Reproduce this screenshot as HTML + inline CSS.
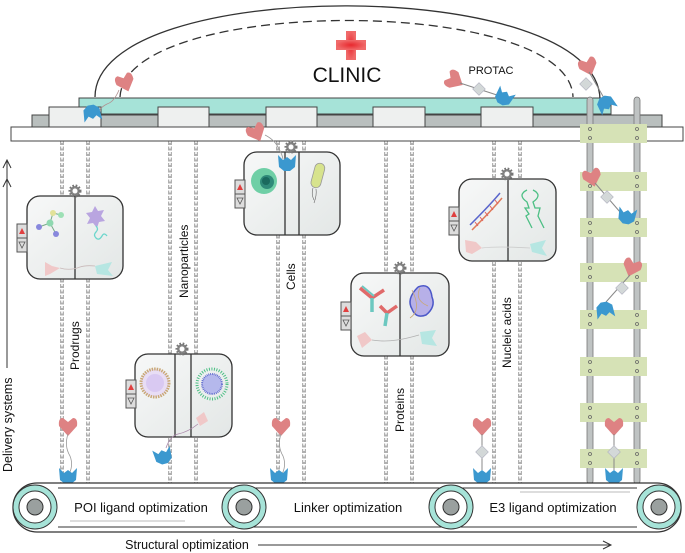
<!DOCTYPE html>
<html><head><meta charset="utf-8"><style>
html,body{margin:0;padding:0;background:#fff;}
svg{display:block;font-family:"Liberation Sans",sans-serif;}
</style></head><body>
<svg width="685" height="553" viewBox="0 0 685 553" xmlns="http://www.w3.org/2000/svg">
<defs>
  <linearGradient id="cab" x1="0" y1="0" x2="1" y2="1">
    <stop offset="0" stop-color="#f7f8f8"/><stop offset="1" stop-color="#e3e7e6"/>
  </linearGradient>
  <radialGradient id="cross"><stop offset="0" stop-color="#e8282e"/><stop offset="1" stop-color="#f06a6a"/></radialGradient>
  <g id="heart"><path d="M0,10 L-9,0 Q-10,-8 -5,-8 L0,-4 L5,-8 Q10,-8 9,0 Z" fill="#de8283"/></g>
  <g id="claw"><path d="M-9,-8 L-4,-3 L0,-6 L4,-3 L9,-8 L8,4 L3,8 L-3,8 L-8,4 Z" fill="#3b98cf"/></g>
  <g id="dia"><rect x="-4.5" y="-4.5" width="9" height="9" transform="rotate(45)" fill="#d3d8d8" stroke="#aab" stroke-width="0.5"/></g>
  <g id="gear"><circle r="5" fill="#888"/><circle r="5" fill="none" stroke="#777" stroke-width="3" stroke-dasharray="1.5 1.5"/><circle r="2.5" fill="#fff"/></g>
  <g id="panel"><rect x="0" y="0" width="10" height="28" fill="#ddd" stroke="#555" stroke-width="1"/><line x1="0" y1="14" x2="10" y2="14" stroke="#555"/><path d="M5,4 L8,10 L2,10Z" fill="#e04040"/><path d="M2,18 L8,18 L5,24Z" fill="none" stroke="#555" stroke-width="0.8"/></g>
</defs>

<path d="M95,97 C95,-25 600,-25 600,100" fill="none" stroke="#333" stroke-width="1.3"/>
<path d="M120,97 C125,-5 570,-5 573,97" fill="none" stroke="#333" stroke-width="1.3" stroke-dasharray="9 5"/>
<rect x="346" y="31" width="10" height="29" fill="url(#cross)"/>
<rect x="336" y="40" width="30" height="10" fill="url(#cross)"/>
<text x="347" y="82" font-size="21" text-anchor="middle" fill="#111">CLINIC</text>
<text x="491" y="74" font-size="11" text-anchor="middle" fill="#111">PROTAC</text>

<g stroke="#b0b0b0" stroke-width="4" stroke-dasharray="4 1.5">
<line x1="62" y1="141" x2="62" y2="483"/><line x1="88" y1="141" x2="88" y2="483"/>
<line x1="170" y1="141" x2="170" y2="483"/><line x1="196" y1="141" x2="196" y2="483"/>
<line x1="278" y1="141" x2="278" y2="483"/><line x1="304" y1="141" x2="304" y2="483"/>
<line x1="386" y1="141" x2="386" y2="483"/><line x1="412" y1="141" x2="412" y2="483"/>
<line x1="494" y1="141" x2="494" y2="483"/><line x1="520" y1="141" x2="520" y2="483"/>
</g>
<g stroke="#fff" stroke-width="1.5" stroke-dasharray="2 3.5">
<line x1="62" y1="141" x2="62" y2="483"/><line x1="88" y1="141" x2="88" y2="483"/>
<line x1="170" y1="141" x2="170" y2="483"/><line x1="196" y1="141" x2="196" y2="483"/>
<line x1="278" y1="141" x2="278" y2="483"/><line x1="304" y1="141" x2="304" y2="483"/>
<line x1="386" y1="141" x2="386" y2="483"/><line x1="412" y1="141" x2="412" y2="483"/>
<line x1="494" y1="141" x2="494" y2="483"/><line x1="520" y1="141" x2="520" y2="483"/>
</g>

<rect x="79" y="98" width="532" height="16" fill="#a6e3d8" stroke="#444" stroke-width="1"/>
<rect x="32" y="115" width="630" height="12" fill="#b9bfbe" stroke="#444" stroke-width="1"/>
<g fill="#eef0ef" stroke="#444" stroke-width="1">
<rect x="49" y="107" width="52" height="20"/><rect x="158" y="107" width="51" height="20"/>
<rect x="266" y="107" width="51" height="20"/><rect x="373" y="107" width="52" height="20"/>
<rect x="481" y="107" width="52" height="20"/>
</g>
<rect x="11" y="127" width="672" height="14" fill="#fff" stroke="#444" stroke-width="1"/>

<rect x="587" y="97" width="6" height="387" rx="3" fill="#bfc3c3" stroke="#777" stroke-width="0.8"/>
<rect x="634" y="97" width="6" height="387" rx="3" fill="#bfc3c3" stroke="#777" stroke-width="0.8"/>
<g fill="#d6e2b6">
<rect x="580" y="124" width="67" height="19"/><rect x="580" y="172" width="67" height="19"/>
<rect x="580" y="218" width="67" height="19"/><rect x="580" y="263" width="67" height="19"/>
<rect x="580" y="310" width="67" height="19"/><rect x="580" y="357" width="67" height="19"/>
<rect x="580" y="403" width="67" height="19"/><rect x="580" y="449" width="67" height="19"/>
</g>
<g fill="none" stroke="#666" stroke-width="0.8">
<circle cx="590" cy="129" r="1.5"/><circle cx="590" cy="138" r="1.5"/><circle cx="637" cy="129" r="1.5"/><circle cx="637" cy="138" r="1.5"/>
<circle cx="590" cy="177" r="1.5"/><circle cx="590" cy="186" r="1.5"/><circle cx="637" cy="177" r="1.5"/><circle cx="637" cy="186" r="1.5"/>
<circle cx="590" cy="223" r="1.5"/><circle cx="590" cy="232" r="1.5"/><circle cx="637" cy="223" r="1.5"/><circle cx="637" cy="232" r="1.5"/>
<circle cx="590" cy="268" r="1.5"/><circle cx="590" cy="277" r="1.5"/><circle cx="637" cy="268" r="1.5"/><circle cx="637" cy="277" r="1.5"/>
<circle cx="590" cy="315" r="1.5"/><circle cx="590" cy="324" r="1.5"/><circle cx="637" cy="315" r="1.5"/><circle cx="637" cy="324" r="1.5"/>
<circle cx="590" cy="362" r="1.5"/><circle cx="590" cy="371" r="1.5"/><circle cx="637" cy="362" r="1.5"/><circle cx="637" cy="371" r="1.5"/>
<circle cx="590" cy="408" r="1.5"/><circle cx="590" cy="417" r="1.5"/><circle cx="637" cy="408" r="1.5"/><circle cx="637" cy="417" r="1.5"/>
<circle cx="590" cy="454" r="1.5"/><circle cx="590" cy="463" r="1.5"/><circle cx="637" cy="454" r="1.5"/><circle cx="637" cy="463" r="1.5"/>
</g>

<g stroke="#333" stroke-width="1.3">
<rect x="27" y="196" width="96" height="83" rx="13" fill="url(#cab)"/>
<line x1="75" y1="196" x2="75" y2="279"/>
<rect x="135" y="354" width="97" height="83" rx="13" fill="url(#cab)"/>
<line x1="175" y1="354" x2="175" y2="437"/><line x1="191" y1="354" x2="191" y2="437"/>
<rect x="244" y="152" width="96" height="83" rx="13" fill="url(#cab)"/>
<line x1="285" y1="152" x2="285" y2="235"/><line x1="299" y1="152" x2="299" y2="235"/>
<rect x="351" y="273" width="98" height="83" rx="13" fill="url(#cab)"/>
<line x1="400" y1="273" x2="400" y2="356"/>
<rect x="459" y="179" width="97" height="82" rx="13" fill="url(#cab)"/>
<line x1="508" y1="179" x2="508" y2="261"/>
</g>
<use href="#gear" x="75" y="191"/><use href="#gear" x="182" y="349"/><use href="#gear" x="291" y="147"/><use href="#gear" x="400" y="268"/><use href="#gear" x="507" y="174"/>
<use href="#panel" x="17" y="224"/><use href="#panel" x="126" y="380"/><use href="#panel" x="235" y="180"/><use href="#panel" x="341" y="302"/><use href="#panel" x="449" y="207"/>

<g stroke="#7a8" stroke-width="1"><line x1="39" y1="227" x2="50" y2="223"/><line x1="50" y1="223" x2="53" y2="213"/><line x1="53" y1="213" x2="61" y2="215"/><line x1="50" y1="223" x2="56" y2="234"/></g>
<circle cx="50" cy="223" r="3.5" fill="#8fd8b0"/><circle cx="39" cy="227" r="3" fill="#8888dd"/><circle cx="53" cy="213" r="3" fill="#e2e29a"/><circle cx="61" cy="215" r="3" fill="#9de0b5"/><circle cx="56" cy="234" r="3" fill="#8888dd"/>
<path d="M95,206 L98,211 L104,210 L101,216 L105,221 L99,222 L97,228 L93,223 L87,224 L90,218 L86,213 L92,212Z" fill="#b9a5e0"/>
<path d="M96,226 q3,3 0,6 q-3,3 0,6 q3,3 6,-2 q2,-4 5,0" fill="none" stroke="#6cd6cc" stroke-width="1.3"/>
<path d="M45,262 L52,266 L60,268 L50,274 L45,276 Z" fill="#f0c8c8"/>
<path d="M95,266 L112,262 L108,270 L113,276 L97,274Z" fill="#b6e6e2"/>
<path d="M60,268 q10,3 20,-1 q6,-2 15,-1" fill="none" stroke="#c8b8b8" stroke-width="0.8"/>
<circle cx="155" cy="383" r="14" fill="#e8ddf5" stroke="#c9a877" stroke-width="3" stroke-dasharray="1.5 1"/>
<circle cx="155" cy="383" r="9" fill="#d9c9f2"/>
<circle cx="212" cy="384" r="15" fill="none" stroke="#4cbf84" stroke-width="3" stroke-dasharray="1 1.5"/>
<circle cx="212" cy="384" r="10" fill="#b5b8ec" stroke="#5a66cc" stroke-width="2" stroke-dasharray="0.8 1"/>
<path d="M196,418 L204,412 L208,421 L200,426Z" fill="#f0c8c8"/>
<path d="M198,424 q-10,8 -20,10 q-8,2 -12,14" fill="none" stroke="#a8a" stroke-width="0.8"/>
<g transform="translate(163,456) rotate(-15)"><use href="#claw"/></g>
<circle cx="264" cy="181" r="13" fill="#6fcfa6"/><circle cx="267" cy="182" r="7" fill="#2f8a79"/><circle cx="266" cy="181" r="4" fill="#1a6a5e"/>
<rect x="313" y="163" width="10" height="25" rx="5" fill="#d7e38d" stroke="#999" stroke-width="0.8" transform="rotate(15 318 175)"/>
<path d="M313,188 q-2,6 1,12 M316,189 q1,6 -2,14" fill="none" stroke="#666" stroke-width="0.6"/>
<path d="M265,135 q10,5 14,14 q3,5 4,10" fill="none" stroke="#999" stroke-width="0.8"/>
<g transform="translate(256,132) rotate(-25)"><use href="#heart"/></g>
<g transform="translate(287,163)"><use href="#claw"/></g>
<g stroke-width="3.5" fill="none">
<path d="M360,288 L372,298 L384,290" stroke="#e06a6a"/><path d="M372,298 L372,312" stroke="#6cc8c0"/>
<path d="M362,286 L374,296" stroke="#6cc8c0" stroke-width="2"/>
<path d="M380,306 L387,313 L397,306" stroke="#e06a6a"/><path d="M387,313 L385,326" stroke="#6cc8c0"/>
</g>
<path d="M418,287 q12,-5 14,10 q4,10 -6,18 q-10,4 -14,-6 q-6,-10 6,-22" fill="#b7b0e8" stroke="#4c58c8" stroke-width="1.5"/>
<path d="M412,290 q10,20 -2,28 M420,288 q-6,12 8,18" fill="none" stroke="#c9a877" stroke-width="0.8"/>
<path d="M357,336 L365,332 L372,340 L362,348Z" fill="#f0c8c8"/>
<path d="M420,332 L436,330 L432,338 L437,346 L422,344Z" fill="#b6e6e2"/>
<path d="M372,340 q12,2 25,0 q8,-1 22,-5" fill="none" stroke="#b0b0b0" stroke-width="0.8"/>
<path d="M470,225 C480,215 490,205 500,193" fill="none" stroke="#5a66cc" stroke-width="1.5"/>
<path d="M472,230 C482,220 492,210 502,198" fill="none" stroke="#e07a5a" stroke-width="1.5"/>
<g stroke="#e06060" stroke-width="1"><line x1="475" y1="222" x2="478" y2="226"/><line x1="480" y1="217" x2="483" y2="221"/><line x1="485" y1="212" x2="488" y2="216"/><line x1="490" y1="206" x2="493" y2="210"/><line x1="495" y1="200" x2="498" y2="204"/></g>
<path d="M527,190 q-10,5 0,12 l2,6 l-4,0 l4,6 l-3,2 l6,12 M533,190 q10,5 0,12 l2,6 l5,0 l-2,8 l6,12" fill="none" stroke="#4cbf84" stroke-width="1.3"/>
<path d="M465,240 L476,242 L482,248 L472,254 L466,252Z" fill="#f0c8c8"/>
<path d="M530,244 L546,240 L542,248 L547,256 L532,252Z" fill="#b6e6e2"/>
<path d="M482,248 q15,-2 48,0" stroke="#ccc" stroke-width="0.8" fill="none"/>

<g transform="translate(125,82) rotate(-20)"><use href="#heart"/></g>
<path d="M119,90 q-5,12 -12,14 q-4,2 -8,6" fill="none" stroke="#b09090" stroke-width="0.8"/>
<g transform="translate(92,113) rotate(170)"><use href="#claw"/></g>
<g transform="translate(454,80) rotate(-60)"><use href="#heart"/></g>
<line x1="460" y1="83" x2="500" y2="96" stroke="#888" stroke-width="1"/>
<use href="#dia" x="479" y="89"/>
<g transform="translate(504,97) rotate(30)"><use href="#claw"/></g>
<g transform="translate(588,66) rotate(-20)"><use href="#heart"/></g>
<line x1="589" y1="72" x2="604" y2="98" stroke="#888" stroke-width="1"/>
<use href="#dia" x="586" y="84"/>
<g transform="translate(606,104) rotate(150)"><use href="#claw"/></g>
<g transform="translate(592,177) rotate(-15)"><use href="#heart"/></g>
<line x1="595" y1="183" x2="620" y2="212" stroke="#888" stroke-width="1"/>
<use href="#dia" x="607" y="197"/>
<g transform="translate(627,216) rotate(10)"><use href="#claw"/></g>
<g transform="translate(632,267) rotate(20)"><use href="#heart"/></g>
<line x1="630" y1="275" x2="606" y2="302" stroke="#888" stroke-width="1"/>
<use href="#dia" x="622" y="288"/>
<g transform="translate(605,310) rotate(170)"><use href="#claw"/></g>
<use href="#heart" x="68" y="426"/>
<path d="M68,434 q-4,12 2,22 q4,10 -2,20" fill="none" stroke="#999" stroke-width="0.8"/>
<use href="#claw" x="68" y="476"/>
<use href="#heart" x="281" y="426"/>
<path d="M281,434 q-4,12 2,22 q4,10 -2,20" fill="none" stroke="#999" stroke-width="0.8"/>
<use href="#claw" x="279" y="476"/>
<use href="#heart" x="482" y="426"/>
<line x1="482" y1="434" x2="482" y2="470" stroke="#888"/>
<use href="#dia" x="482" y="452"/>
<use href="#claw" x="482" y="476"/>
<use href="#heart" x="614" y="426"/>
<line x1="614" y1="434" x2="614" y2="470" stroke="#888"/>
<use href="#dia" x="614" y="452"/>
<use href="#claw" x="614" y="476"/>

<rect x="13" y="483" width="668" height="49" rx="24" fill="#fff" stroke="#333" stroke-width="1.3"/>
<line x1="58" y1="488" x2="637" y2="488" stroke="#333" stroke-width="1"/>
<line x1="58" y1="527" x2="637" y2="527" stroke="#333" stroke-width="1"/>
<line x1="70" y1="521" x2="185" y2="521" stroke="#bbb" stroke-width="1"/>
<line x1="520" y1="492" x2="630" y2="492" stroke="#bbb" stroke-width="1"/>
<g stroke="#333" stroke-width="1">
<g transform="translate(35,507)"><circle r="22" fill="#a6e3d8"/><circle r="16" fill="#fff"/><circle r="8" fill="#9aa09f"/></g>
<g transform="translate(244,507)"><circle r="22" fill="#a6e3d8"/><circle r="16" fill="#fff"/><circle r="8" fill="#9aa09f"/></g>
<g transform="translate(451,507)"><circle r="22" fill="#a6e3d8"/><circle r="16" fill="#fff"/><circle r="8" fill="#9aa09f"/></g>
<g transform="translate(659,507)"><circle r="22" fill="#a6e3d8"/><circle r="16" fill="#fff"/><circle r="8" fill="#9aa09f"/></g>
</g>
<g font-size="13" fill="#111" text-anchor="middle">
<text x="141" y="512">POI ligand optimization</text>
<text x="348" y="512">Linker optimization</text>
<text x="553" y="512">E3 ligand optimization</text>
</g>
<text x="187" y="549" font-size="12.5" fill="#111" text-anchor="middle">Structural optimization</text>
<line x1="258" y1="545" x2="610" y2="545" stroke="#333" stroke-width="1"/>
<path d="M603,541 L611,545 L603,549" fill="none" stroke="#333" stroke-width="1"/>

<line x1="7" y1="160" x2="7" y2="368" stroke="#333" stroke-width="1"/>
<path d="M3,168 L7,160 L11,168 M3,187 L7,179 L11,187" fill="none" stroke="#333" stroke-width="1"/>
<text transform="translate(12,472) rotate(-90)" font-size="12.5" fill="#111">Delivery systems</text>

<g font-size="12" fill="#111">
<text transform="translate(79,370) rotate(-90)">Prodrugs</text>
<text transform="translate(188,298) rotate(-90)">Nanoparticles</text>
<text transform="translate(295,290) rotate(-90)">Cells</text>
<text transform="translate(404,432) rotate(-90)">Proteins</text>
<text transform="translate(511,368) rotate(-90)">Nucleic acids</text>
</g>
</svg>
</body></html>
